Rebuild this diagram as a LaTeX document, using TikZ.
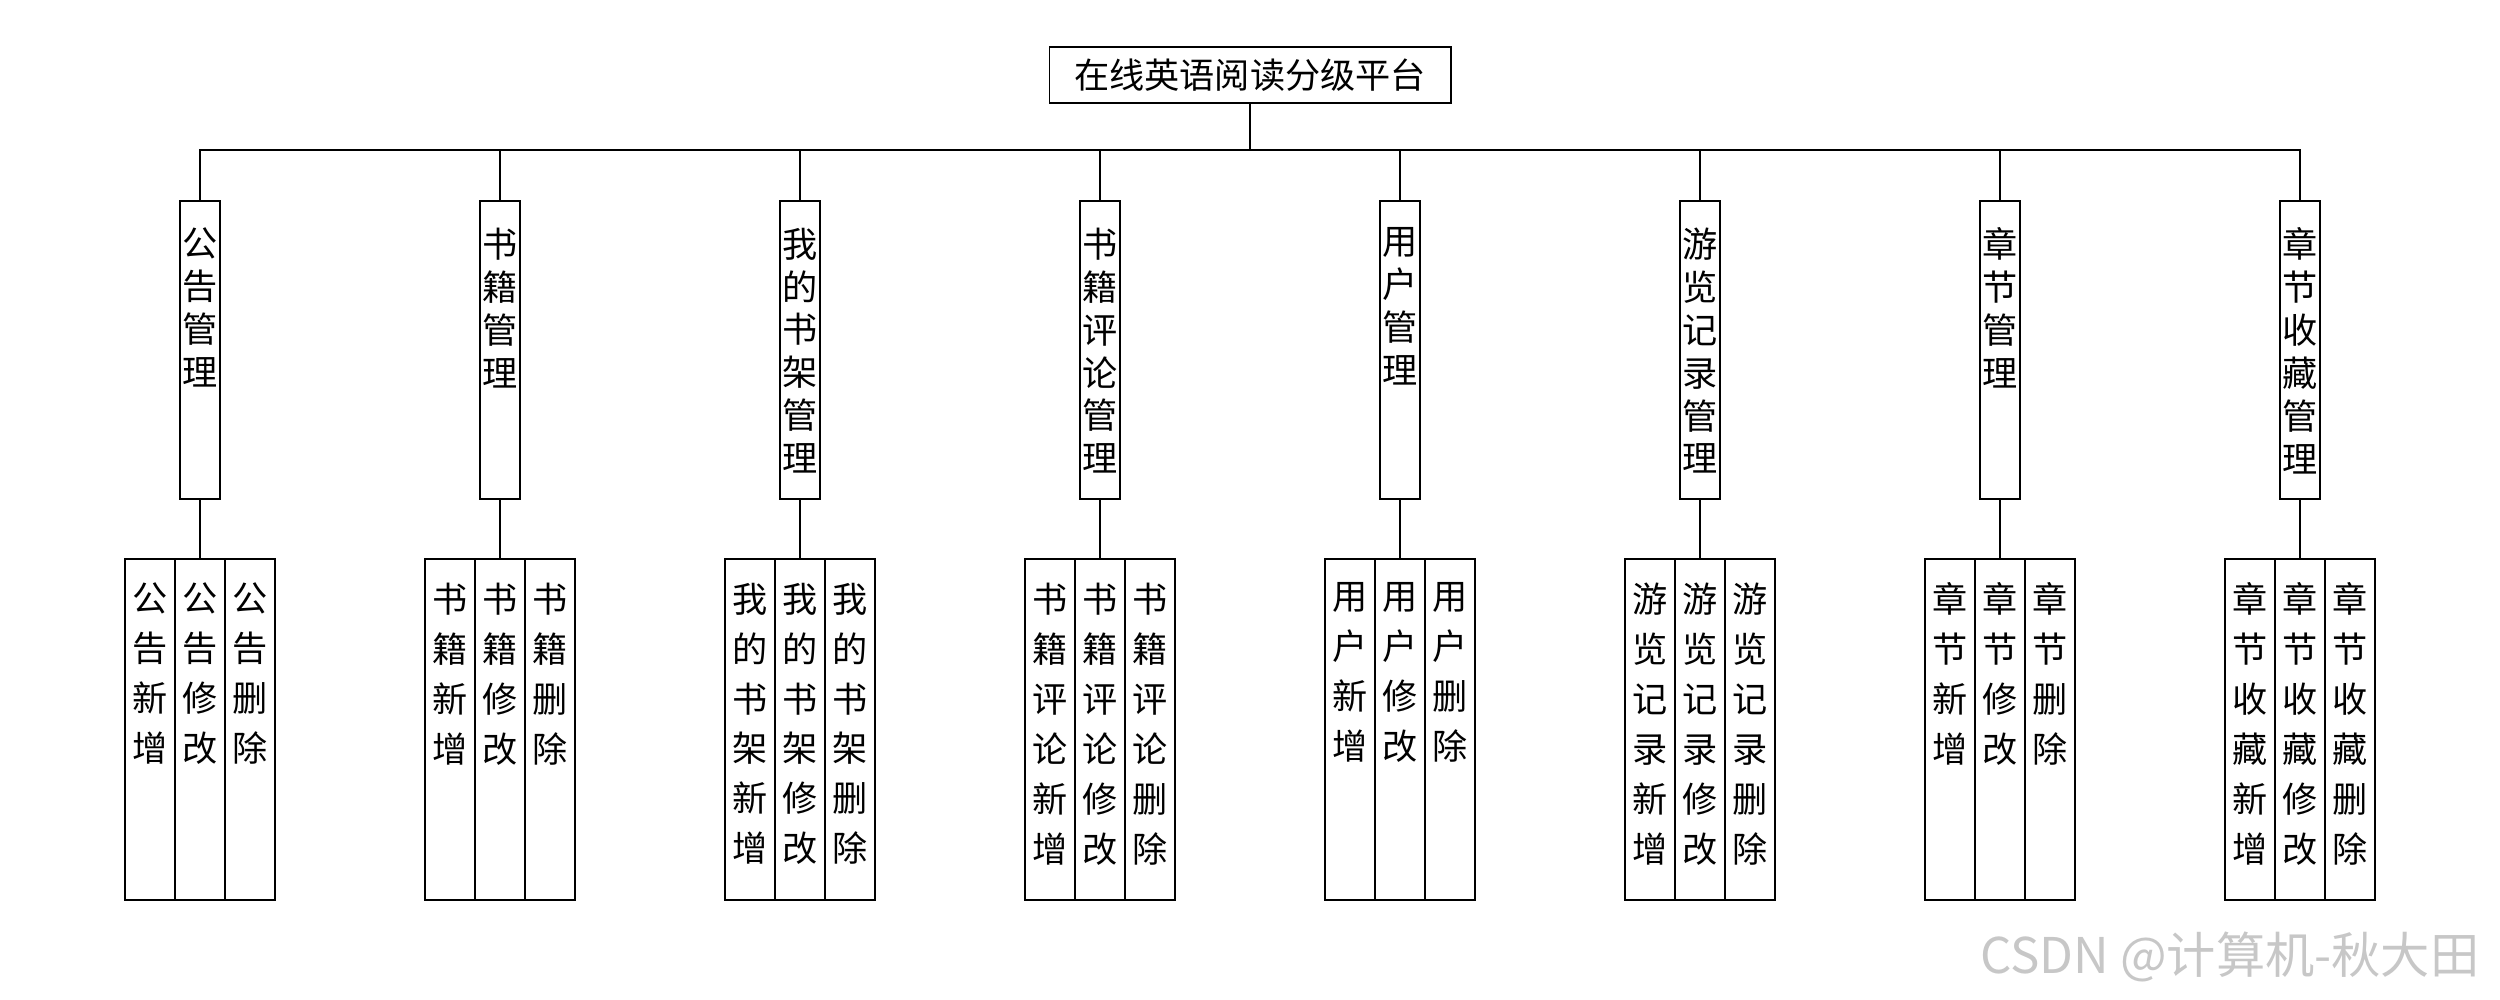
\documentclass[tikz,border=0pt]{standalone}
\usepackage{fontspec}
\setmainfont{Noto Sans CJK SC}
\usepackage{tikz}
\usetikzlibrary{positioning}
\makeatletter
% stack the characters of #2, one below the other, #1 apart
\newcommand\vchars[2]{\edef\vc@list{#2}%
  \def\vc@go{\@tfor\vc@x:=}%
  \vbox{\baselineskip=#1\lineskiplimit=-20pt\lineskip=0pt
    \expandafter\vc@go\vc@list\do{\hbox to 1em{\hss\vc@x\hss}}}}
\makeatother

\begin{document}
\begin{tikzpicture}[x=0.01cm,y=-0.01cm,
    line width=0.5pt,
    rootbox/.style={rectangle,draw,minimum width=4.01cm,minimum height=0.5cm,font=\fontsize{10pt}{12pt}\selectfont},
    modbox/.style={rectangle,draw,anchor=north,minimum width=0.4cm,minimum height=2.98cm,inner sep=0pt},
    leafbox/.style={rectangle,draw,anchor=north,minimum width=0.5cm,minimum height=3.41cm,inner sep=0pt},
    vtext/.style={inner sep=0pt,font=\fontsize{10pt}{12pt}\selectfont},
    wmark/.style={text=black!22,font=\fontsize{14pt}{16pt}\selectfont}]
        \useasboundingbox (0,0) rectangle (2500,1000);
        \node[rootbox] (root) at (1250,75) {在线英语阅读分级平台};
        \foreach \grp [count=\i] in {公告,书籍,我的书架,书籍评论,用户,游览记录,章节,章节收藏} {
            \node[modbox] (m\i) at ({300*\i-100},200) {};
            \node[vtext,below=0.27cm of m\i.north] (mt\i) {\vchars{12.2pt}{\grp 管理}};
            \draw (m\i.north) -- ++(0,-50) -| (root.south);
            \foreach \act [count=\j] in {新增,修改,删除} {
                \node[leafbox] (l\i\j) at ({300*\i-100+50*(\j-2)},558) {};
                \node[vtext,below=0.24cm of l\i\j.north] (lt\i\j) {\vchars{14.2pt}{\grp\act}};
            }
            \draw (m\i.south) -- (l\i2.north);
        }
        \node[wmark,anchor=east] (wm) at (2492,957) {CSDN @计算机-秋大田};
    \end{tikzpicture}
\end{document}
